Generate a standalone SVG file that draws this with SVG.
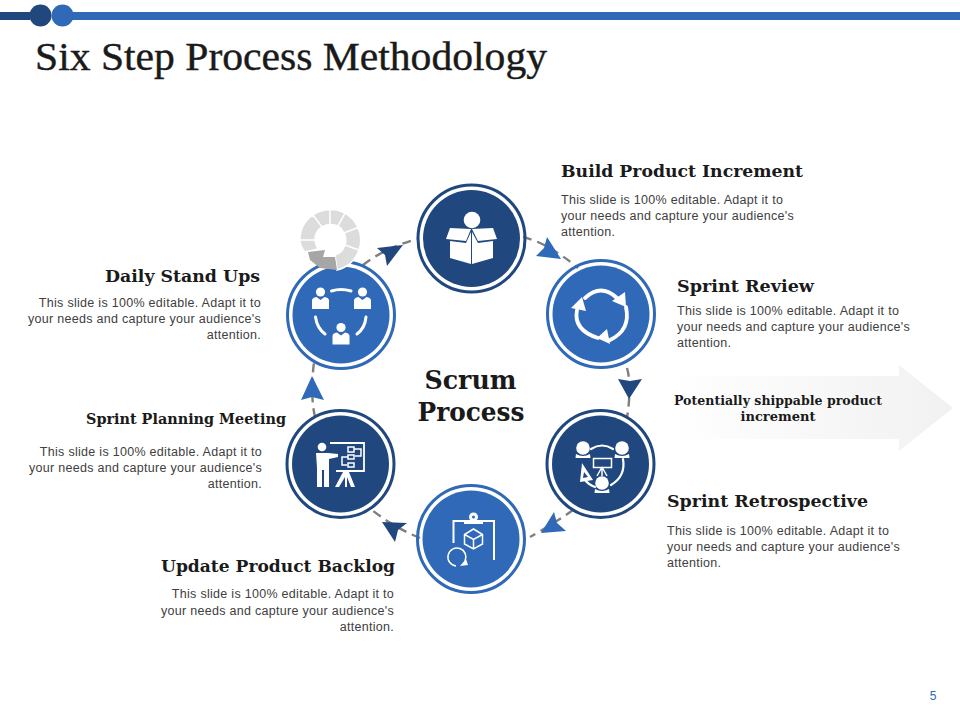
<svg xmlns="http://www.w3.org/2000/svg" width="960" height="720" viewBox="0 0 960 720">
<style>
.h{font-family:"DejaVu Serif","Liberation Serif",serif;font-weight:700;fill:#1a1a1a}
.b{font-family:"Liberation Sans",Arial,sans-serif;font-size:12.5px;letter-spacing:.29px;fill:#404040}
.e{text-anchor:end}
.m{text-anchor:middle}
.dk{fill:#21477f}
.lt{fill:#2f69b7}
.rd{fill:none;stroke:#21477f;stroke-width:3}
.rl{fill:none;stroke:#2f69b7;stroke-width:3}
.c{fill:none;stroke:#7f7f7f;stroke-width:2.400;stroke-dasharray:9 6}
.w{fill:#fff}
.ws{fill:none;stroke:#fff;stroke-width:3;stroke-linecap:round}
.wt{fill:none;stroke:#fff;stroke-width:1.500}
</style>
<defs>
<linearGradient id="ag" x1="0" y1="0" x2="1" y2="0"><stop offset="0" stop-color="#fff"/><stop offset="1" stop-color="#f1f1f1"/></linearGradient>
<g id="person"><circle cx="0" cy="-8" r="4.600" class="w"/><path class="w" d="M-8.500 9V0.500Q-8.500-2.500-4-3L0 0L4-3Q8.500-2.500 8.500 0.500V9Z"/></g>
<g id="bust"><circle cx="0" cy="0" r="6.800" class="w"/><path class="w" d="M-7 6Q0 10 7 6L7.500 10H-7.500Z"/></g>
</defs>
<g id="header">
<rect x="0" y="12" width="30" height="8" class="dk"/>
<rect x="62" y="12" width="898" height="8" class="lt"/>
<circle cx="40.500" cy="15.500" r="11" class="dk"/>
<circle cx="62.500" cy="15.500" r="11" class="lt"/>
</g>
<text id="title" x="35" y="70" textLength="512" lengthAdjust="spacingAndGlyphs" style="font-family:'Liberation Serif',serif;font-size:40px;fill:#1a1a1a;stroke:#1a1a1a;stroke-width:.4">Six Step Process Methodology</text>
<g id="connectors">
<path class="c" d="M363 265Q385 248 417 239"/>
<path class="c" d="M523 237Q548 243 578 268"/>
<path class="c" d="M627 368Q632 385 627 418"/>
<path class="c" d="M573 510Q555 523 530 537"/>
<path class="c" d="M420 538Q395 528 372 510"/>
<path class="c" d="M315 417Q310 395 314 362"/>
<path class="dk" d="M403 245L377 248L385 255L387 266Z"/>
<path class="lt" d="M561 259L547 237L544 248L536 256Z"/>
<path class="dk" d="M629 399L618 379L630 381L642 379Z"/>
<path class="lt" d="M541 533L554 512L557 523L566 531Z"/>
<path class="dk" d="M382 522L407 523L398 530L395 542Z"/>
<path class="lt" d="M312 376L301 400L312 397L324 400Z"/>
</g>
<g id="node-build">
<circle cx="471.500" cy="238.500" r="53.500" class="rd"/><circle cx="471.500" cy="238.500" r="48.500" class="dk"/>
<circle cx="472" cy="220" r="8.300" class="w"/>
<path class="w" d="M450 228L471 229L466 241L446 239ZM493 228L472 229L478 241L497 239Z"/>
<path class="w" d="M450 241L466 243L471 232V264L450 258ZM493 241L478 243L472 232V264L493 258Z"/>
</g>
<g id="node-review">
<circle cx="601" cy="314" r="53.500" class="rl"/><circle cx="601" cy="314" r="48.500" class="lt"/>
<path class="ws" style="stroke-width:3.800" d="M585 298Q601 283 617 298"/>
<path class="ws" style="stroke-width:3.800" d="M626 307Q631 330 610 340"/>
<path class="ws" style="stroke-width:3.800" d="M577 310Q573 330 598 338"/>
<path class="w" d="M625 292L626 307L612 301ZM582 297L571 308L586 311ZM597 338L610 344L607 329Z"/>
</g>
<g id="node-retro">
<circle cx="600.500" cy="464" r="53.500" class="rd"/><circle cx="600.500" cy="464" r="48.500" class="dk"/>
<use href="#bust" transform="translate(583 448)"/>
<use href="#bust" transform="translate(622 448)"/>
<use href="#bust" transform="translate(602 483)"/>
<path class="ws" style="stroke-width:2.200" d="M591 449Q602 442 613 449M623 459Q626 476 611 485M585 480Q589 485 595 487"/>
<rect x="593.500" y="458.500" width="18" height="9" class="wt"/>
<path class="wt" d="M602 467L597 476M602 467L607 476M602 467V476"/>
<path class="w" d="M582 463L593 480L580 482ZM584 472L583 478L588 477Z"/>
</g>
<g id="node-backlog">
<circle cx="471" cy="539" r="53.500" class="rl"/><circle cx="471" cy="539" r="48.500" class="lt"/>
<path class="wt" style="stroke-width:2" d="M453.500 543V521H464M483 521H494V560"/>
<path class="w" d="M464 520H483V524H464Z"/>
<circle cx="473.500" cy="517" r="4.500" class="w"/>
<circle cx="473.500" cy="517" r="1.500" class="lt"/>
<path class="wt" d="M473.500 529L482.500 534.500V544L473.500 549L464.500 544V534.500ZM464.500 534.500L473.500 539.500L482.500 534.500M473.500 539.500V549"/>
<path class="wt" d="M465 561A9 9 0 1 0 456 566"/>
<path class="w" d="M460 566L466 559L468 565Z"/>
</g>
<g id="node-planning">
<circle cx="340.500" cy="464" r="53.500" class="rd"/><circle cx="340.500" cy="464" r="48.500" class="dk"/>
<circle cx="322" cy="447" r="4.300" class="w"/>
<path class="w" d="M316 453H328L338 454V457L329 459V487H324V470H322V487H317V468Z"/>
<path class="wt" style="stroke-width:1.800" d="M330 443H364V471H336"/>
<path class="w" d="M343 472H349L355 487H351L347 477V487H345V477L339 487H335Z"/>
<path class="wt" d="M348 447H354V452H348ZM348 455H354V459H348ZM348 463H354V467H348ZM354 449H361V456H355M348 457H342V465H347"/>
</g>
<g id="node-standup">
<circle cx="341" cy="315" r="53.500" class="rl"/><circle cx="341" cy="315" r="48.500" class="lt"/>
<use href="#person" transform="translate(320.500 300)"/>
<use href="#person" transform="translate(362.500 300)"/>
<use href="#person" transform="translate(341 335.500)"/>
<path class="ws" d="M331.500 291Q341 288 351 291"/>
<path class="ws" d="M315.500 317Q317 328 325 334"/>
<path class="ws" d="M366 317Q365 328 357 334"/>
</g>
<g id="donut">
<path fill="#dcdcdc" stroke="#fff" stroke-width="1.500" d="M330 209.500A30.500 30.500 0 0 1 345 213L338 226A15.500 15.500 0 0 0 330 224.500Z M345 213A30.500 30.500 0 0 1 358 227.500L344 233A15.500 15.500 0 0 0 338 226Z M358 227.500A30.500 30.500 0 0 1 359 250L345 245A15.500 15.500 0 0 0 344 233Z M359 250A30.500 30.500 0 0 1 337 270L335 255A15.500 15.500 0 0 0 345 245Z M300 240A30.500 30.500 0 0 1 313 215L322 227A15.500 15.500 0 0 0 315 240Z M313 215A30.500 30.500 0 0 1 330 209.500V224.500A15.500 15.500 0 0 0 322 227Z M300 240H315Q315.500 245 318 249L305 252Q300 246 300 240Z"/>
<path fill="#a6a6a6" d="M308 252L325 250L323 257L335 257L337 270L320 268L310 260Z"/>
</g>
<g id="center-label">
<text class="h m" x="470.500" y="389" style="font-size:26px" textLength="92" lengthAdjust="spacingAndGlyphs">Scrum</text>
<text class="h m" x="471" y="421" style="font-size:26px" textLength="107" lengthAdjust="spacingAndGlyphs">Process</text>
</g>
<g id="arrow">
<path fill="url(#ag)" d="M669 376H899V365L953 408L899 451V439H669Z"/>
<text class="h m" x="778" y="405" style="font-size:13px" textLength="208" lengthAdjust="spacingAndGlyphs">Potentially shippable product</text>
<text class="h m" x="778" y="421" style="font-size:13px" textLength="75" lengthAdjust="spacingAndGlyphs">increment</text>
</g>
<g id="t-build">
<text class="h" x="561" y="177" style="font-size:17px" textLength="242" lengthAdjust="spacingAndGlyphs">Build Product Increment</text>
<text class="b" x="561" y="204">This slide is 100% editable. Adapt it to</text>
<text class="b" x="561" y="220">your needs and capture your audience's</text>
<text class="b" x="561" y="236">attention.</text>
</g>
<g id="t-review">
<text class="h" x="677" y="292" style="font-size:17px" textLength="137" lengthAdjust="spacingAndGlyphs">Sprint Review</text>
<text class="b" x="677" y="315">This slide is 100% editable. Adapt it to</text>
<text class="b" x="677" y="331">your needs and capture your audience's</text>
<text class="b" x="677" y="347">attention.</text>
</g>
<g id="t-retro">
<text class="h" x="667" y="507" style="font-size:17px" textLength="201" lengthAdjust="spacingAndGlyphs">Sprint Retrospective</text>
<text class="b" x="667" y="535">This slide is 100% editable. Adapt it to</text>
<text class="b" x="667" y="551">your needs and capture your audience's</text>
<text class="b" x="667" y="567">attention.</text>
</g>
<g id="t-backlog">
<text class="h" x="161" y="572" style="font-size:17px" textLength="234" lengthAdjust="spacingAndGlyphs">Update Product Backlog</text>
<text class="b e" x="394" y="598">This slide is 100% editable. Adapt it to</text>
<text class="b e" x="394" y="615">your needs and capture your audience's</text>
<text class="b e" x="394" y="631">attention.</text>
</g>
<g id="t-planning">
<text class="h" x="86" y="424" style="font-size:14.500px" textLength="200" lengthAdjust="spacingAndGlyphs">Sprint Planning Meeting</text>
<text class="b e" x="262" y="456">This slide is 100% editable. Adapt it to</text>
<text class="b e" x="262" y="472">your needs and capture your audience's</text>
<text class="b e" x="262" y="488">attention.</text>
</g>
<g id="t-standup">
<text class="h" x="105" y="282" style="font-size:17px" textLength="155" lengthAdjust="spacingAndGlyphs">Daily Stand Ups</text>
<text class="b e" x="261" y="307">This slide is 100% editable. Adapt it to</text>
<text class="b e" x="261" y="323">your needs and capture your audience's</text>
<text class="b e" x="261" y="339">attention.</text>
</g>
<text id="page" x="933" y="700" class="m" style="font-family:'Liberation Sans',sans-serif;font-size:12px;fill:#2f69b7">5</text>
</svg>
